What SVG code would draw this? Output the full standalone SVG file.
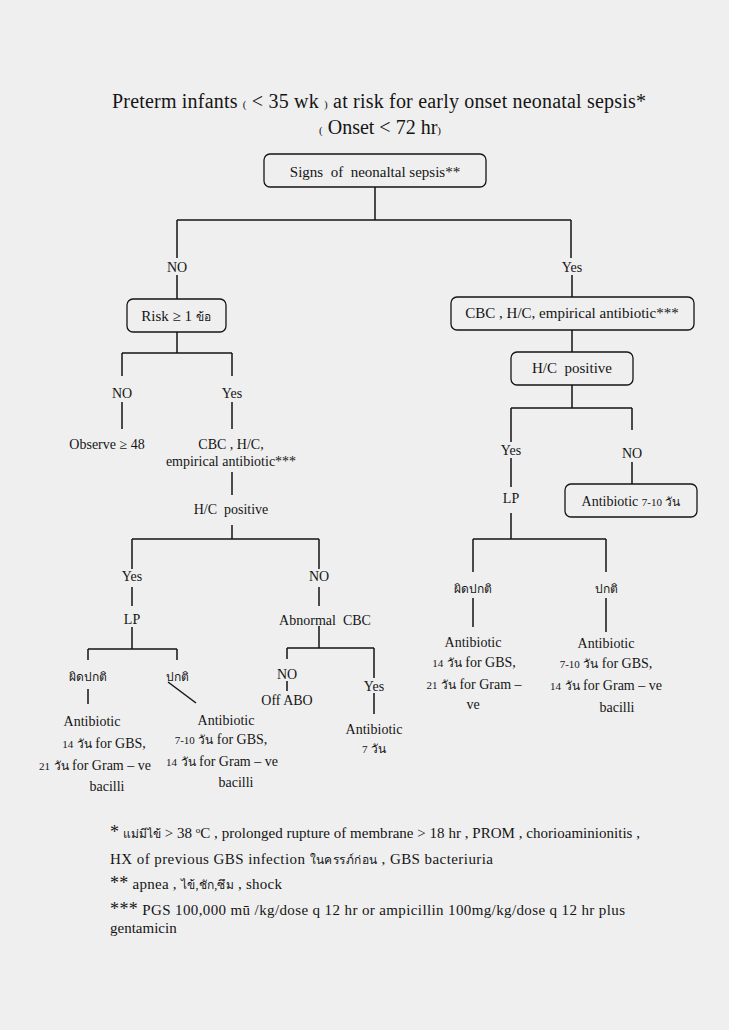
<svg xmlns="http://www.w3.org/2000/svg" width="729" height="1030" viewBox="0 0 729 1030">
<style>
text{font-family:"Liberation Serif","Times New Roman","Noto Sans",serif;fill:#151515;}
.t{font-size:20px;text-anchor:middle}
.n{font-size:15px;text-anchor:middle}
.l{font-size:14px;text-anchor:middle}
.th{font-size:12px;text-anchor:middle}
.sm{font-size:11px}
.f{font-size:15px}
.pre{white-space:pre}
.box{fill:none;stroke:#151515;stroke-width:1.3}
.ln{fill:none;stroke:#151515;stroke-width:1.5}
</style>
<rect width="729" height="1030" fill="#efefef"/>
<g id="title">
<text class="t" x="379" y="108" textLength="534" lengthAdjust="spacing">Preterm infants <tspan font-size="11">(</tspan> &lt; 35 wk <tspan font-size="11">)</tspan> at risk for early onset neonatal sepsis*</text>
<text class="t" x="380" y="134"><tspan font-size="11">(</tspan> Onset &lt; 72 hr<tspan font-size="11">)</tspan></text>
</g>
<g id="connectors">
<path class="ln" d="M375 187V220M177 220H571M177 220V258M571 220V258M177 275V299M177 332V353M122 353H232M122 353V376M232 353V376M122 402V429M232 402V429M232 472V495M232 525V539M132 539H319M132 539V569M319 539V569M132 587V606M319 587V606M132 627V649M88 649H177M88 649V660M177 649V660M88 689V704M168 682L196 703M319 626V648M287 648H374M287 648V659M374 648V678M287 681V691M374 693V714M572 275V297M572 330V352M572 385V408M511 408H632M511 408V442M632 408V430M511 458V487M632 462V484M511 513V539M473 539H606M473 539V572M606 539V572M473 598V627M606 598V632"/>
</g>
<g id="n-signs"><rect class="box" x="264" y="154" width="222" height="33" rx="6"/><text class="n pre" x="375" y="177" font-size="17.5">Signs  of  neonaltal sepsis**</text></g>
<g id="l-no1"><text class="l" x="177" y="272">NO</text></g>
<g id="l-yes1"><text class="l" x="572" y="272">Yes</text></g>
<g id="n-risk"><rect class="box" x="127" y="299" width="99" height="33" rx="6"/><text class="n" x="176" y="321">Risk ≥ 1 <tspan font-size="12">ข้อ</tspan></text></g>
<g id="l-no2"><text class="l" x="122" y="398">NO</text></g>
<g id="l-yes2"><text class="l" x="232" y="398">Yes</text></g>
<g id="n-observe"><text class="l" x="107" y="449" font-size="15">Observe ≥ 48</text></g>
<g id="n-cbc-left"><text class="l" x="231" y="449">CBC , H/C,</text><text class="l" x="231" y="466">empirical antibiotic***</text></g>
<g id="n-hc-left"><text class="l pre" x="231" y="514">H/C  positive</text></g>
<g id="l-yes3"><text class="l" x="132" y="581">Yes</text></g>
<g id="l-no3"><text class="l" x="319" y="581">NO</text></g>
<g id="n-lp-left"><text class="l" x="132" y="624">LP</text></g>
<g id="n-abn"><text class="l pre" x="325" y="625" font-size="15">Abnormal  CBC</text></g>
<g id="l-abn-left"><text class="th" x="88" y="681">ผิดปกติ</text></g>
<g id="l-norm-left"><text class="th" x="177" y="681">ปกติ</text></g>
<g id="n-ab1"><text class="l" x="92" y="726">Antibiotic</text><text class="l" x="104" y="748"><tspan class="sm">14</tspan> <tspan font-size="12">วัน</tspan> for GBS,</text><text class="l" x="95" y="770"><tspan class="sm">21</tspan> <tspan font-size="12">วัน</tspan> for Gram – ve</text><text class="l" x="107" y="791">bacilli</text></g>
<g id="n-ab2"><text class="l" x="226" y="725">Antibiotic</text><text class="l" x="221" y="744"><tspan class="sm">7-10</tspan> <tspan font-size="12">วัน</tspan> for GBS,</text><text class="l" x="222" y="766"><tspan class="sm">14</tspan> <tspan font-size="12">วัน</tspan> for Gram – ve</text><text class="l" x="236" y="787">bacilli</text></g>
<g id="l-no4"><text class="l" x="287" y="679">NO</text></g>
<g id="n-offabo"><text class="l" x="287" y="705">Off ABO</text></g>
<g id="l-yes4"><text class="l" x="374" y="691">Yes</text></g>
<g id="n-ab7"><text class="l" x="374" y="734">Antibiotic</text><text class="l" x="374" y="753"><tspan class="sm">7</tspan> <tspan font-size="12">วัน</tspan></text></g>
<g id="n-cbc-right"><rect class="box" x="451" y="297" width="243" height="33" rx="6"/><text class="n" x="572" y="318">CBC , H/C, empirical antibiotic***</text></g>
<g id="n-hc-right"><rect class="box" x="511" y="352" width="122" height="33" rx="6"/><text class="n pre" x="572" y="373">H/C  positive</text></g>
<g id="l-yes5"><text class="l" x="511" y="455">Yes</text></g>
<g id="l-no5"><text class="l" x="632" y="458">NO</text></g>
<g id="n-ab710"><rect class="box" x="565" y="484" width="132" height="33" rx="6"/><text class="l" x="631" y="506">Antibiotic <tspan class="sm">7-10</tspan> <tspan font-size="12">วัน</tspan></text></g>
<g id="n-lp-right"><text class="l" x="511" y="503">LP</text></g>
<g id="l-abn-right"><text class="th" x="473" y="593">ผิดปกติ</text></g>
<g id="l-norm-right"><text class="th" x="606" y="593">ปกติ</text></g>
<g id="n-ab3"><text class="l" x="473" y="647">Antibiotic</text><text class="l" x="474" y="667"><tspan class="sm">14</tspan> <tspan font-size="12">วัน</tspan> for GBS,</text><text class="l" x="474" y="689"><tspan class="sm">21</tspan> <tspan font-size="12">วัน</tspan> for Gram –</text><text class="l" x="473" y="709">ve</text></g>
<g id="n-ab4"><text class="l" x="606" y="648">Antibiotic</text><text class="l" x="606" y="668"><tspan class="sm">7-10</tspan> <tspan font-size="12">วัน</tspan> for GBS,</text><text class="l" x="606" y="690"><tspan class="sm">14</tspan> <tspan font-size="12">วัน</tspan> for Gram – ve</text><text class="l" x="617" y="712">bacilli</text></g>
<g id="footnotes">
<text class="f" x="110" y="838" textLength="530" lengthAdjust="spacing"><tspan font-size="18">*</tspan> <tspan font-size="12">แม่มีไข้</tspan> &gt; 38 <tspan font-size="9" dy="-5">o</tspan><tspan dy="5">C , prolonged rupture of membrane &gt; 18 hr , PROM , chorioaminionitis ,</tspan></text>
<text class="f" x="110" y="864" textLength="383" lengthAdjust="spacing">HX of previous GBS infection <tspan font-size="12">ในครรภ์ก่อน</tspan> , GBS bacteriuria</text>
<text class="f" x="110" y="889" textLength="172" lengthAdjust="spacing"><tspan font-size="18">**</tspan> apnea , <tspan font-size="12">ไข้,ชัก,ซึม</tspan> , shock</text>
<text class="f" x="110" y="915" textLength="515" lengthAdjust="spacing"><tspan font-size="18">***</tspan> PGS 100,000 mū /kg/dose q 12 hr or ampicillin 100mg/kg/dose q 12 hr plus</text>
<text class="f" x="110" y="933">gentamicin</text>
</g>
</svg>
